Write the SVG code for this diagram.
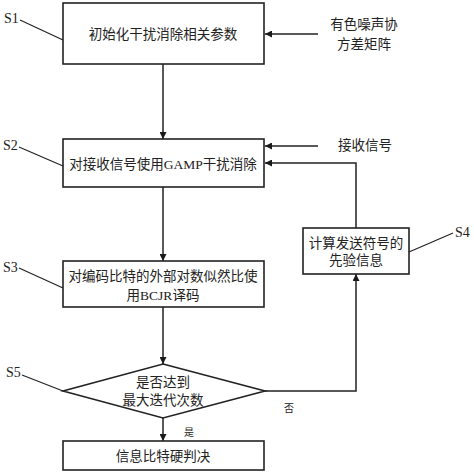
<svg xmlns="http://www.w3.org/2000/svg" width="474" height="474" viewBox="0 0 474 474">
<defs>
<marker id="arr" viewBox="0 0 10 10" refX="10" refY="5" markerWidth="7" markerHeight="7" markerUnits="userSpaceOnUse" orient="auto">
<path d="M0,0 L10,5 L0,10 z" fill="#1a1a1a"/>
</marker>
<style>
.box{fill:#fff;stroke:#222;stroke-width:1.6}
.ln{fill:none;stroke:#222;stroke-width:1.5}
.ld{fill:none;stroke:#222;stroke-width:1.2}
text{font-family:"Liberation Serif","Noto Sans CJK SC",serif;fill:#222;font-size:13.5px;text-anchor:middle;dominant-baseline:central}
.lbl{font-size:14px;text-anchor:start}
.sm{font-size:10px}
</style>
</defs>
<rect width="474" height="474" fill="#fff"/>
<g id="connectors">
<line class="ln" x1="163" y1="64" x2="163" y2="139" marker-end="url(#arr)"/>
<line class="ln" x1="318" y1="34" x2="265" y2="34" marker-end="url(#arr)"/>
<line class="ln" x1="318" y1="146" x2="265" y2="146" marker-end="url(#arr)"/>
<polyline class="ln" points="356,228 356,163 265,163" marker-end="url(#arr)"/>
<line class="ln" x1="163" y1="187" x2="163" y2="261" marker-end="url(#arr)"/>
<line class="ln" x1="163" y1="307" x2="163" y2="364" marker-end="url(#arr)"/>
<polyline class="ln" points="265,391 356,391 356,274" marker-end="url(#arr)"/>
<line class="ln" x1="163" y1="418" x2="163" y2="441" marker-end="url(#arr)"/>
<text class="sm" x="289" y="408">否</text>
<text class="sm" x="189" y="432">是</text>
</g>
<g id="S1">
<rect class="box" x="63" y="3" width="201" height="61"/>
<text x="163" y="34">初始化干扰消除相关参数</text>
<line class="ld" x1="20" y1="20" x2="63" y2="40"/>
<text class="lbl" x="4" y="18">S1</text>
</g>
<g id="noise">
<text x="364" y="24">有色噪声协</text>
<text x="364" y="44">方差矩阵</text>
</g>
<g id="rx">
<text x="365" y="145">接收信号</text>
</g>
<g id="S2">
<rect class="box" x="63" y="139" width="201" height="48"/>
<text x="163" y="164">对接收信号使用GAMP干扰消除</text>
<line class="ld" x1="19" y1="147" x2="63" y2="166"/>
<text class="lbl" x="3" y="145">S2</text>
</g>
<g id="S3">
<rect class="box" x="63" y="261" width="201" height="46"/>
<text x="163" y="276">对编码比特的外部对数似然比使</text>
<text x="163" y="295">用BCJR译码</text>
<line class="ld" x1="19" y1="268" x2="63" y2="288"/>
<text class="lbl" x="3" y="267">S3</text>
</g>
<g id="S4">
<rect class="box" x="303" y="228" width="106" height="46"/>
<text x="356" y="243">计算发送符号的</text>
<text x="356" y="260">先验信息</text>
<line class="ld" x1="409" y1="252" x2="453" y2="233"/>
<text class="lbl" x="455" y="232">S4</text>
</g>
<g id="S5">
<polygon class="box" points="163,364 265,391 163,418 63,391"/>
<text x="163" y="382">是否达到</text>
<text x="163" y="400">最大迭代次数</text>
<line class="ld" x1="22" y1="375" x2="63" y2="391"/>
<text class="lbl" x="6" y="372">S5</text>
</g>
<g id="final">
<rect class="box" x="63" y="441" width="201" height="29"/>
<text x="163" y="456">信息比特硬判决</text>
</g>
</svg>
